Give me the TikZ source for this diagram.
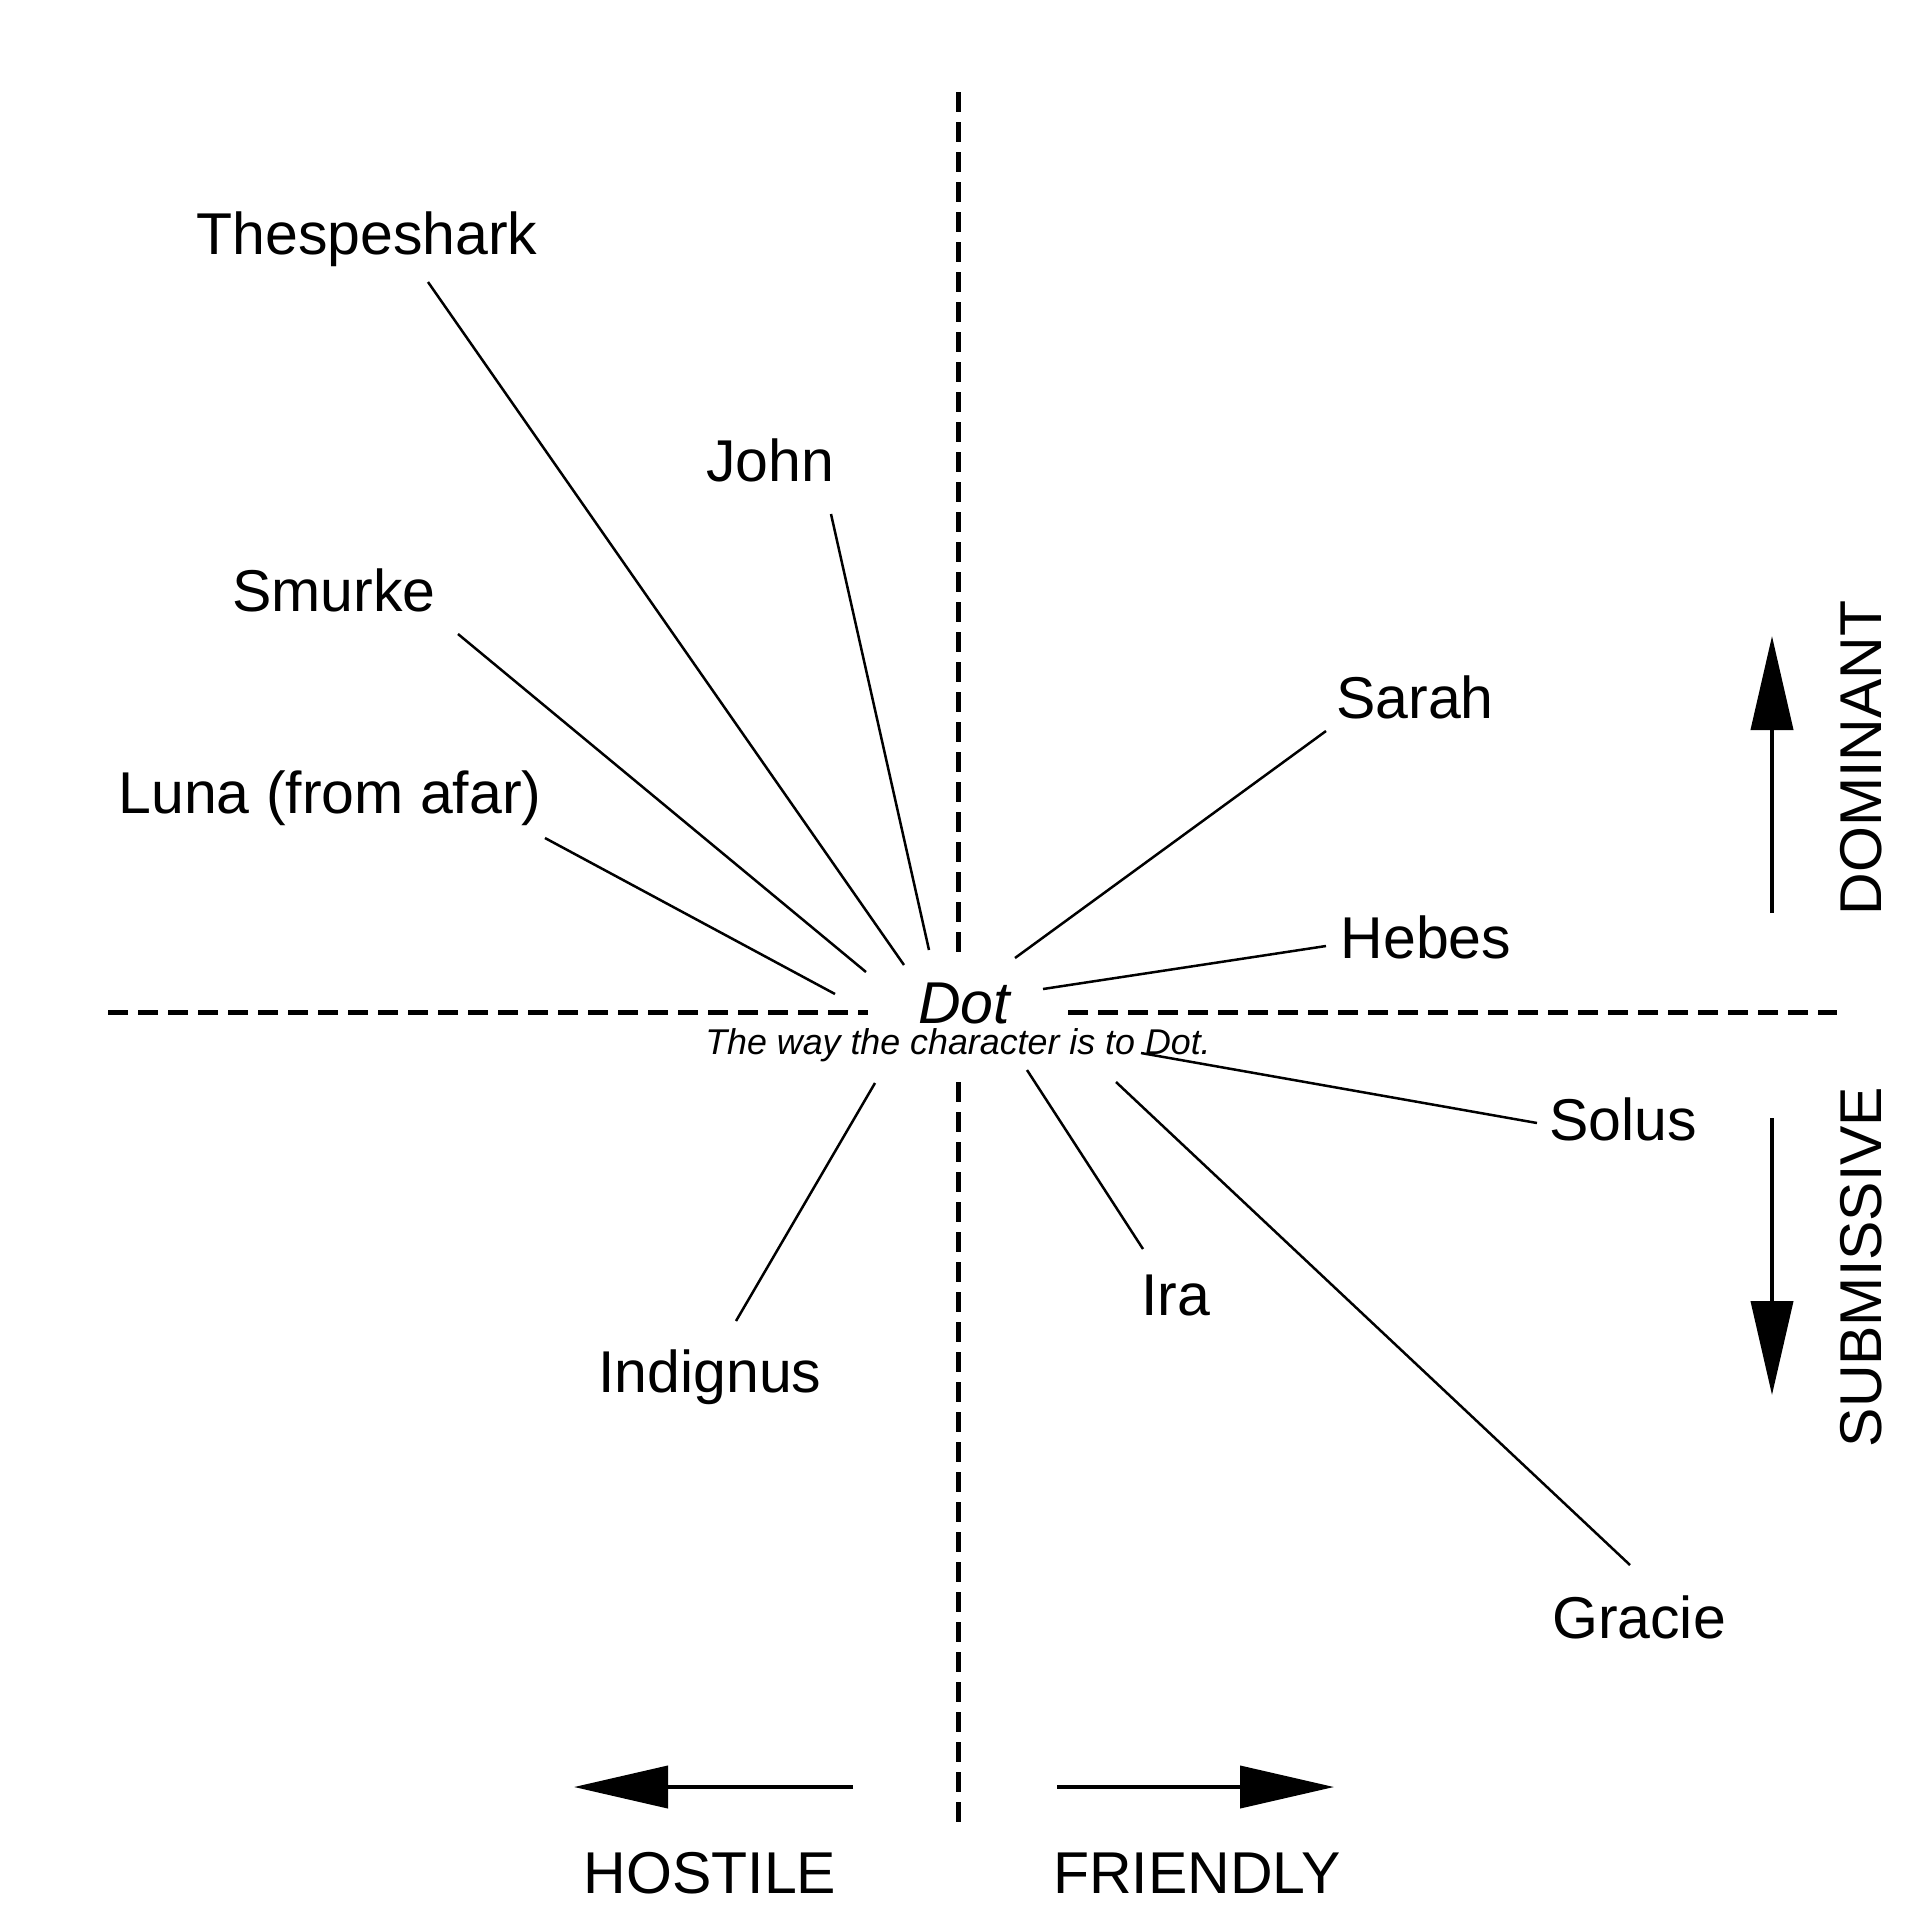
\documentclass[tikz,border=0pt]{standalone}
\usepackage{fontspec}
\setmainfont{Liberation Sans}
\usetikzlibrary{arrows.meta}

\tikzset{
	charname/.style={anchor=base, inner sep=0pt, font=\fontsize{29.5}{35}\selectfont},
	axisline/.style={line width=2.5pt, dash pattern=on 10pt off 5pt},
	tie/.style={line width=1.25pt},
	pointer/.style={line width=2pt, -{Triangle[length=47pt, width=21pt]}}
}

\begin{document}
\begin{tikzpicture}[x=0.5pt, y=-0.5pt]

		\useasboundingbox (0,0) rectangle (1920,1924);

		% draw the two axes
		\draw[axisline] (958,92) -- (958,1822);
		\draw[axisline] (108,1012) -- (1837,1012);

		% draw the centre
		\node[charname, font=\fontsize{29.5}{35}\selectfont\itshape, fill=white, inner xsep=25pt, inner ysep=14pt, text depth=14pt] (dot) at (964,1023) {Dot};
		\node[charname, font=\fontsize{17.9}{21}\selectfont\itshape] (legend) at (958,1054) {The way the character is to Dot.};

		% draw the characters
		\foreach \who/\txt/\x/\y in {
			thespeshark/Thespeshark/367/254,
			john/John/770/481,
			smurke/Smurke/334/611,
			luna/{Luna (from afar)}/330/813,
			sarah/Sarah/1415/718,
			hebes/Hebes/1426/958,
			solus/Solus/1623/1140,
			ira/Ira/1176/1315,
			indignus/Indignus/710/1392,
			gracie/Gracie/1639/1638}
		{
			\node[charname] (\who) at (\x,\y) {\txt};
		}

		% draw the lines to Dot
		\foreach \who/\ax/\ay/\bx/\by in {
			thespeshark/428/282/904/965,
			john/831/514/929/950,
			smurke/458/634/866/972,
			luna/545/838/835/994,
			sarah/1326/731/1015/958,
			hebes/1326/946/1043/989,
			solus/1537/1123/1141/1053,
			ira/1143/1249/1027/1070,
			gracie/1630/1565/1116/1082,
			indignus/736/1321/875/1083}
		{
			\coordinate (\who-out) at (\ax,\ay);
			\coordinate (\who-in) at (\bx,\by);
			\draw[tie] (\who-out) -- (\who-in);
		}

		% draw the direction arrows
		\coordinate (up-from) at (1772,913);
		\coordinate (up-to) at (1772,636);
		\coordinate (down-from) at (1772,1118);
		\coordinate (down-to) at (1772,1395);
		\coordinate (left-from) at (853,1787);
		\coordinate (left-to) at (574,1787);
		\coordinate (right-from) at (1057,1787);
		\coordinate (right-to) at (1334,1787);
		\draw[pointer] (up-from) -- (up-to);
		\draw[pointer] (down-from) -- (down-to);
		\draw[pointer] (left-from) -- (left-to);
		\draw[pointer] (right-from) -- (right-to);

		\node[charname, rotate=90] (dominant) at (1881,758) {DOMINANT};
		\node[charname, rotate=90] (submissive) at (1881,1267) {SUBMISSIVE};
		\node[charname] (hostile) at (710,1893) {HOSTILE};
		\node[charname] (friendly) at (1197,1893) {FRIENDLY};

\end{tikzpicture}
\end{document}
